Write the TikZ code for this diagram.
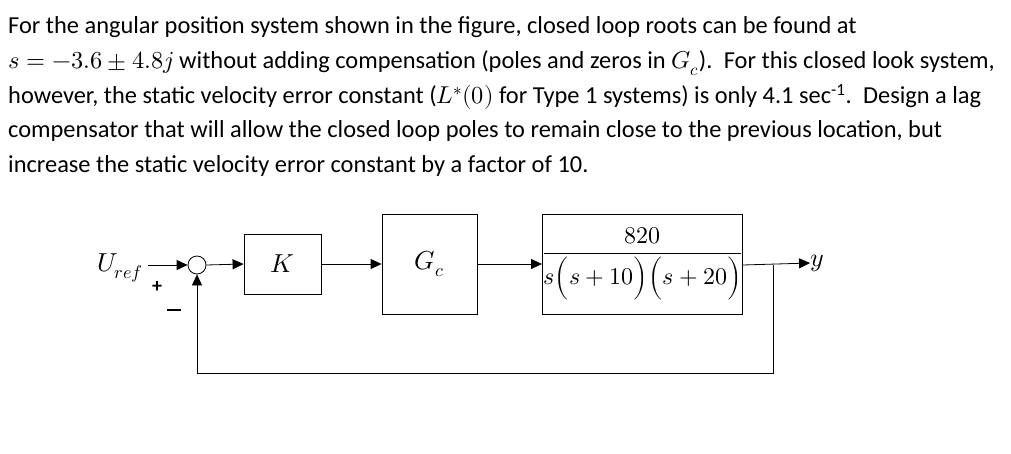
\documentclass[tikz,border=0pt]{standalone}
\usepackage{fontspec}
\setmainfont{Carlito}
\usepackage{unicode-math}
\usetikzlibrary{arrows.meta}
\begin{document}
\begin{tikzpicture}[x=1pt,y=-1pt,
  blk/.style={draw,line width=0.8pt,inner sep=0pt},
  sig/.style={-{Triangle[length=11pt,width=10pt]},line width=0.8pt},
  txt/.style={anchor=base west,inner sep=0pt,font=\fontsize{24.4}{25}\selectfont}]
\useasboundingbox (0,0) rectangle (1011,454);
\node[txt] (l1) at (8,34) {For the angular position system shown in the figure, closed loop roots can be found at};
\node[txt] (l2) at (8,69) {$s=-3.6\pm4.8j$ without adding compensation (poles and zeros in $G_c$).\, For this closed look system,};
\node[txt] (l3) at (8,104) {however, the static velocity error constant ($L^{*}(0)$ for Type 1 systems) is only 4.1 sec$^{\text{-1}}$.\, Design a lag};
\node[txt] (l4) at (8,138) {compensator that will allow the closed loop poles to remain close to the previous location, but};
\node[txt] (l5) at (8,173) {increase the static velocity error constant by a factor of 10.};
\node[inner sep=0pt,font=\fontsize{26}{26}\selectfont] (u) at (120,268) {$U_{\symit{ref}}$};
\coordinate (uin) at (148,265);
\node[draw,line width=0.8pt,circle,minimum size=18pt,inner sep=0pt] (sum) at (197,265) {};
\node[font=\bfseries\fontsize{20}{20}\selectfont] (plus) at (157,287) {+};
\node[minimum width=14pt,minimum height=2.5pt,fill,inner sep=0pt] (minus) at (174,310) {};
\node[blk,minimum width=77pt,minimum height=60pt] (k) at (282.5,264) {\fontsize{26}{26}\selectfont$K$};
\node[blk,minimum width=95pt,minimum height=100pt] (gc) at (429.5,264) {\fontsize{26}{26}\selectfont$G_c$};
\node[blk,minimum width=193pt,minimum height=100pt] (g) at (642.5,264) {\fontsize{24}{24}\selectfont$\dfrac{820}{s\Bigl(s+10\Bigr)\Bigl(s+20\Bigr)}$};
\node[inner sep=0pt,font=\fontsize{26}{26}\selectfont] (y) at (817,263) {$y$};
\coordinate (br) at (773,265);
\coordinate (fb) at (773,373);
\coordinate (fb2) at (197,373);
\draw[sig] (uin) -- (sum.west);
\draw[sig] (sum.east) -- (k.west);
\draw[sig] (k.east) -- (gc.west);
\draw[sig] (gc.east) -- (g.west);
\draw[sig] (g.east |- br) -- (y.west);
\draw[sig] (br) -- (fb) -- (fb2) -- (sum.south);
\end{tikzpicture}
\end{document}
